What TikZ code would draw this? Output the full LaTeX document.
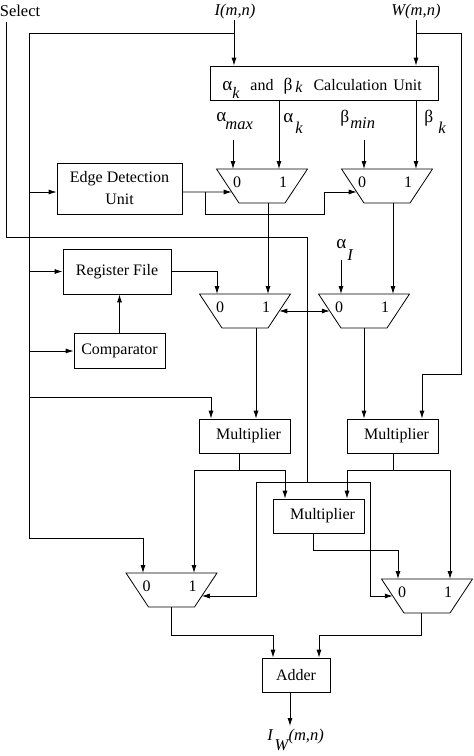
\documentclass[tikz,border=0pt]{standalone}
\usepackage{fontspec}
\setmainfont{Liberation Serif}
\usetikzlibrary{arrows.meta,calc}
\newcommand\lsub[2][6pt]{\raisebox{-#1}{\itshape #2}}
\newcommand\ga{{\fontsize{19}{19}\selectfont α}}
\newcommand\gb{{\fontsize{17.5}{19}\selectfont β}}
\newcommand\muxat[3]{%
  \coordinate (#1-tl) at ({#2-45.5},#3);
  \coordinate (#1-tr) at ({#2+45.5},#3);
  \coordinate (#1-br) at ({#2+23},{#3+34});
  \coordinate (#1-bl) at ({#2-23},{#3+34});
  \draw (#1-tl) -- (#1-tr) -- (#1-br) -- (#1-bl) -- cycle;
  \node[boxtxt,inner sep=0pt] (#1-zero) at ({#2-25},{#3+13}) {0};
  \node[boxtxt,inner sep=0pt] (#1-one) at ({#2+21},{#3+13}) {1};
}
\begin{document}
\begin{tikzpicture}[x=1pt,y=-1pt,line width=0.8pt,
  >={Latex[length=8pt,width=5pt]},
  boxtxt/.style={font=\fontsize{16}{22}\selectfont},
  lbltxt/.style={font=\fontsize{16.5}{20}\selectfont},
  box/.style={draw,boxtxt,inner sep=0pt,align=center},
  lbl/.style={lbltxt,inner sep=0pt}]
\useasboundingbox (0,0) rectangle (474,756);

% ---------- boxes ----------
\node[box,minimum width=228pt,minimum height=34pt] (calc) at (324,83) {};
\node[boxtxt,inner sep=0pt,anchor=base west] (calctxt) at (222,90)
  {\ga\lsub[8pt]{k}\hspace{11pt}and\hspace{10pt}\gb\kern3pt\lsub[2pt]{k}\hspace{11pt}Calculation\hspace{6pt}Unit};
\node[box,minimum width=125pt,minimum height=51pt] (edge) at (119.5,188.5) {Edge Detection\\Unit};
\node[box,minimum width=108pt,minimum height=45pt] (reg) at (117,271.5) {Register File};
\node[box,minimum width=91pt,minimum height=35pt] (comp) at (119.5,350.5) {Comparator};
\node[box,minimum width=91pt,minimum height=34pt] (mult1) at (244.5,436) {\hspace{8pt}Multiplier};
\node[box,minimum width=91pt,minimum height=34pt] (mult2) at (392.5,436) {\hspace{8pt}Multiplier};
\node[box,minimum width=91pt,minimum height=34pt] (mult3) at (318.5,516) {\hspace{8pt}Multiplier};
\node[box,minimum width=68pt,minimum height=34pt] (adder) at (296,675) {Adder};

% ---------- multiplexers ----------
\muxat{m1}{262}{169}
\muxat{m2}{387}{169}
\muxat{mA}{245}{294}
\muxat{mB}{364}{294}
\muxat{mC}{171.5}{573}
\muxat{mD}{427}{579}
\coordinate (m1L) at ($(m1-tl)!0.676!(m1-bl)$);
\coordinate (m2L) at ($(m2-tl)!0.676!(m2-bl)$);
\coordinate (mAR) at ($(mA-tr)!0.5!(mA-br)$);
\coordinate (mBL) at ($(mB-tl)!0.5!(mB-bl)$);
\coordinate (mCsel) at ($(mC-tr)!0.676!(mC-br)$);
\coordinate (mDsel) at ($(mD-tl)!0.5!(mD-bl)$);

% ---------- labels ----------
\node[lbl] (sel) at (20,11) {Select};
\node[lbl] (I) at (235,12) {\textit{I(m,n)}};
\node[lbl] (W) at (416,12) {\textit{W(m,n)}};
\node[lbl,anchor=base west] (amax) at (216,121) {\ga\kern-1pt\lsub[8pt]{max}};
\node[lbl,anchor=base west] (aklbl) at (283,122) {\ga\kern2pt\lsub[11pt]{k}};
\node[lbl,anchor=base west] (bmin) at (340,122) {\gb\kern1pt\lsub[6pt]{min}};
\node[lbl,anchor=base west] (bklbl) at (424,122) {\gb\kern5pt\lsub[11pt]{k}};
\node[lbl,anchor=base west] (aI) at (336,248) {\ga\kern1pt\lsub[12pt]{I}};
\node[lbl,anchor=base west] (out) at (267,740)
  {\textit{I}\kern1pt\rlap{\lsub[10pt]{W}}\kern14pt\textit{(m,n)}};

% ---------- Select line ----------
\coordinate (sel0) at (6,22);
\coordinate (s2) at (307,237);
\coordinate (s3) at (307,482);
\coordinate (s4) at (256,482);
\coordinate (s5) at (370,482);
\draw (sel0) |- (s2) -- (s3);
\draw (s4) -- (s5);
\draw[->] (s4) |- (mCsel);
\draw[->] (s5) |- (mDsel);

% ---------- I(m,n) ----------
\coordinate (i0) at (234,33);
\draw[->] (i0 |- I.south) -- (i0 |- calc.north);
\coordinate (ibus) at (29,538);
\coordinate (xc0) at (143,0);
\draw[->] (i0) -| (ibus) -| (xc0 |- mC-tl);
\coordinate (b1) at (29,192);
\coordinate (b2) at (29,271.5);
\coordinate (b3) at (29,351);
\coordinate (b4) at (29,397);
\draw[->] (b1) -- (b1 -| edge.west);
\draw[->] (b2) -- (b2 -| reg.west);
\draw[->] (b3) -- (b3 -| comp.west);
\coordinate (x211) at (211,0);
\draw[->] (b4) -| (x211 |- mult1.north);

% ---------- W(m,n) ----------
\coordinate (w0) at (416,33);
\coordinate (w1) at (461,374);
\coordinate (x422) at (422,0);
\draw[->] (w0 |- W.south) -- (w0 |- calc.north);
\draw[->] (w0) -| (w1) -| (x422 |- mult2.north);

% ---------- calc outputs ----------
\coordinate (xak) at (279,0);
\coordinate (xbk) at (416,0);
\draw[->] (calc.south -| xak) -- (m1-tl -| xak);
\draw[->] (calc.south -| xbk) -- (m2-tl -| xbk);
\coordinate (amaxtop) at (233,140);
\draw[->] (amaxtop) -- (amaxtop |- m1-tl);
\coordinate (bmintop) at (364,140);
\draw[->] (bmintop) -- (bmintop |- m2-tl);

% ---------- edge detection outputs ----------
\coordinate (ey) at (0,192);
\coordinate (e1) at (205,192);
\coordinate (e3) at (324,214);
\draw[->] (edge.east |- ey) -- (m1L);
\draw[->] (e1) |- (e3) |- (m2L);

% ---------- register / comparator ----------
\coordinate (xr) at (217,0);
\draw[->] (reg.east) -| (xr |- mA-tl);
\draw[->] (comp.north) -- (comp.north |- reg.south);

% ---------- mux 1/2 to mux A/B ----------
\coordinate (xo1) at (268,0);
\coordinate (xo2) at (393,0);
\draw[->] (xo1 |- m1-bl) -- (xo1 |- mA-tl);
\draw[->] (xo2 |- m2-bl) -- (xo2 |- mB-tl);
\coordinate (aItop) at (341,260);
\draw[->] (aItop) -- (aItop |- mB-tl);
\draw[<->] (mAR) -- (mBL);

% ---------- to multipliers ----------
\coordinate (xoA) at (256,0);
\coordinate (xoB) at (364,0);
\draw[->] (xoA |- mA-bl) -- (xoA |- mult1.north);
\draw[->] (xoB |- mB-bl) -- (xoB |- mult2.north);

% ---------- multiplier outputs ----------
\coordinate (p1) at (239,470);
\coordinate (x285) at (285,0);
\coordinate (x194) at (194,0);
\draw (mult1.south -| p1) -- (p1);
\draw[->] (p1) -| (x285 |- mult3.north);
\draw[->] (p1) -| (x194 |- mC-tl);
\coordinate (p2) at (393,470);
\coordinate (x347) at (347,0);
\coordinate (x450) at (450,0);
\draw (mult2.south -| p2) -- (p2);
\draw[->] (p2) -| (x347 |- mult3.north);
\draw[->] (p2) -| (x450 |- mD-tl);
\coordinate (p3) at (313,550);
\coordinate (x398) at (398,0);
\draw[->] (mult3.south -| p3) -- (p3) -| (x398 |- mD-tl);

% ---------- to adder ----------
\coordinate (q1) at (171,635);
\coordinate (q2) at (421,635);
\coordinate (x273) at (273,0);
\coordinate (x319) at (319,0);
\draw[->] (q1 |- mC-bl) -- (q1) -| (x273 |- adder.north);
\draw[->] (q2 |- mD-bl) -- (q2) -| (x319 |- adder.north);
\coordinate (oend) at (290,726);
\draw[->] (adder.south -| oend) -- (oend);
\end{tikzpicture}
\end{document}
